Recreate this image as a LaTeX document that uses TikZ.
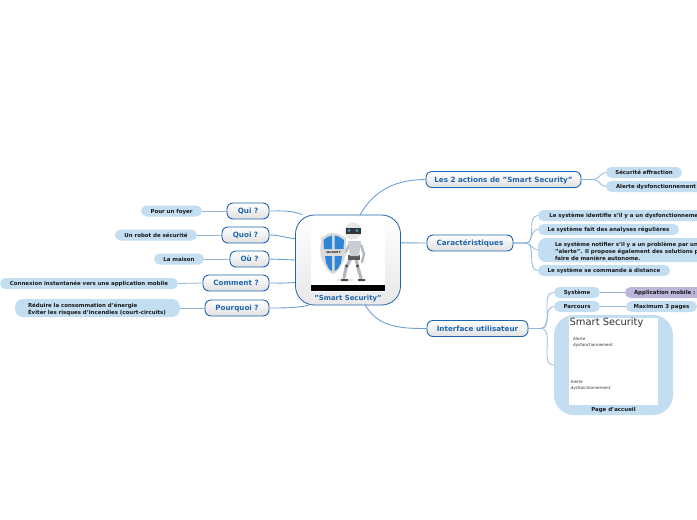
\documentclass[tikz,border=0pt]{standalone}
\usepackage{fontspec}
\setmainfont{DejaVu Sans}
\usetikzlibrary{backgrounds}
\definecolor{linkblue}{HTML}{6F9FD2}
\definecolor{edgeblue}{HTML}{1F65AE}
\definecolor{leafblue}{HTML}{C3DDF1}
\definecolor{purpleleaf}{HTML}{BDB6DA}
\definecolor{robotgrey}{HTML}{B4B8BD}
\definecolor{shieldblue}{HTML}{2F86D6}
\tikzset{
  coretopic/.style={draw=edgeblue,line width=0.8pt,rounded corners=19pt,top color=white,bottom color=black!9,minimum width=105pt,minimum height=90pt},
  maintopic/.style={draw=edgeblue,line width=0.9pt,rounded corners=6pt,top color=white,bottom color=black!12,font=\bfseries\fontsize{7.2}{8}\selectfont,text=edgeblue,minimum height=16pt,inner sep=0pt,text height=5.8pt,text depth=0.4pt},
  subtopic/.style={fill=leafblue,rounded corners=5.5pt,font=\bfseries\fontsize{5.45}{7}\selectfont,text=black!90,minimum height=11pt,inner xsep=0pt,inner ysep=0pt},
  subline/.style={subtopic,text height=5pt,text depth=0.4pt},
  link/.style={draw=linkblue,line width=0.9pt},
  sublink/.style={draw=linkblue!75,line width=0.8pt},
  screentext/.style={font=\fontsize{4.1}{6.5}\selectfont,text=black!80,align=left,inner sep=0pt,anchor=north west},
  robotlimb/.style={line cap=round,line width=3.2pt,draw=robotgrey},
}
\begin{document}
\begin{tikzpicture}[x=1pt,y=-1pt]
\useasboundingbox (0,0) rectangle (697,520);
\clip (0,0) rectangle (697,520);
%
\node[coretopic] (core) at (348,260) {};
\fill[white] (311,218) rectangle (385,292);
\fill[black] (311,285) rectangle (385,291);
\node[font=\bfseries\fontsize{6.9}{8}\selectfont,text=edgeblue,inner sep=0pt] (corelabel) at (348,298.5) {"Smart Security"};
% shield
\fill[black!14] (321,238) to [out=30,in=180](333,233) to [out=0,in=150](346,238) to [out=-90,in=60](343,262) to [out=-120,in=20](333,274) to [out=160,in=-60](323,262) to [out=120,in=-90](321,238);
\fill[shieldblue] (323.5,240) to [out=30,in=180](332,235.5) -- (332,249) -- (324,249) -- cycle;
\fill[shieldblue] (334.5,235.5) to [out=0,in=150](344,240) -- (343.5,249) -- (334.5,249) -- cycle;
\fill[shieldblue] (325,256) -- (332,256) -- (332,271) to [out=160,in=-60](326,263) -- cycle;
\fill[shieldblue] (334.5,256) -- (342,256) -- (341,263) to [out=-120,in=20](334.5,271) -- cycle;
\node[font=\bfseries\fontsize{2.6}{3}\selectfont,inner sep=0pt] (shieldlabel) at (333.5,252.5) {SECURITY};
% robot
\fill[black!10] (345,280) ellipse (9 and 1.2);
\draw[robotlimb] (351,258) -- (346,268) -- (344,278);
\draw[robotlimb] (356,258) -- (358,268) -- (361,278);
\draw[robotlimb,line width=2.4pt] (361,245) -- (364,254) -- (362,262);
\draw[robotlimb,line width=2.2pt] (349,245) -- (346,252);
\fill[black!65] (348,255) rectangle (360,260);
\fill[robotgrey!70] (348,241) -- (361,241) -- (359,256) -- (350,256) -- cycle;
\fill[black!70] (346.5,266) circle (1.6) (357.5,266) circle (1.6);
\fill[black!70] (341,279) rectangle (348,281) (358,279) rectangle (365,281);
\fill[black!10] (353,231) circle (8.5);
\fill[black!80] (346,227.5) rectangle (360.5,233.5);
\fill[cyan!80!black] (349,230.5) circle (1.7) (357,230.5) circle (1.7);
%
\node[maintopic,minimum width=42pt] (qui) at (248,211) {Qui ?};
\node[maintopic,minimum width=47pt] (quoi) at (245.5,235) {Quoi ?};
\node[maintopic,minimum width=39pt] (ou) at (249.5,259) {Où ?};
\node[maintopic,minimum width=66pt] (comment) at (236,283) {Comment ?};
\node[maintopic,minimum width=64pt] (pourquoi) at (237,308) {Pourquoi ?};
%
\node[subline,minimum width=61pt] (foyer) at (171.5,211) {Pour un foyer};
\node[subline,minimum width=82pt] (robot) at (156,235) {Un robot de sécurité};
\node[subline,minimum width=50pt] (maison) at (179,259) {La maison};
\node[subline,minimum width=178pt] (connexion) at (89,283.5) {Connexion instantanée vers une application mobile};
\node[subtopic,minimum width=165pt,minimum height=18pt,rounded corners=8pt,align=left,text width=139pt] (energie) at (97.5,308) {\rule{0pt}{7pt}Réduire la consommation d'énergie\\Éviter les risques d'incendies (court-circuits)};
%
\node[maintopic,minimum width=155pt] (actions) at (503.5,179.5) {Les 2 actions de "Smart Security"};
\node[maintopic,minimum width=86pt] (carac) at (470,243) {Caractéristiques};
\node[maintopic,minimum width=101pt] (interface) at (477.5,328.5) {Interface utilisateur};
%
\node[subline,minimum width=76pt] (effraction) at (644,172.5) {Sécurité effraction};
\node[subline,minimum width=102pt,align=left,text width=82pt] (alerte) at (657,186.5) {Alerte dysfonctionnement};
\node[subline,minimum width=178pt] (identifie) at (627,215.5) {Le système identifie s'il y a un dysfonctionnement};
\node[subline,minimum width=141pt] (analyses) at (608.5,229.5) {Le système fait des analyses régulières};
\node[subtopic,minimum width=206pt,minimum height=24pt,rounded corners=8pt,align=left,text width=172pt] (notifier) at (641,250) {\rule{0pt}{7pt}Le système notifier s'il y a un problème par une\\"alerte". Il propose également des solutions pour\\faire de manière autonome.};
\node[subline,minimum width=132pt] (commande) at (604,270.5) {Le système se commande à distance};
%
\node[subline,minimum width=46pt] (systeme) at (577,292.5) {Système};
\node[subline,minimum width=46pt] (parcours) at (577,306.5) {Parcours};
\node[subline,fill=purpleleaf,minimum width=80pt,align=left,text width=62pt] (application) at (665,292.5) {Application mobile :};
\node[subline,minimum width=71pt] (maximum) at (661.5,306.5) {Maximum 3 pages};
%
\node[subtopic,minimum width=119pt,minimum height=100pt,rounded corners=20pt] (accueil) at (613.5,365) {};
\fill[white] (569,318) rectangle (658,405);
\node[font=\bfseries\fontsize{5.45}{7}\selectfont,text=black!90,inner sep=0pt] (accueillabel) at (613.5,410) {Page d'accueil};
\node[font=\fontsize{9.9}{10}\selectfont,text=black!80,inner sep=0pt,anchor=north west] (screentitle) at (569.5,318) {Smart Security};
\node[screentext] (screenone) at (573,337) {Alerte\\dysfonctionnement};
\node[screentext] (screentwo) at (570.5,380) {Alerte\\dysfonctionnement};
%
\begin{scope}[on background layer]
\draw[link] (core.135) to [out=160,in=0](qui.east);
\draw[link] (core.158) to [out=175,in=0](quoi.east);
\draw[link] (core.180) -- (ou.east);
\draw[link] (core.203) to [out=185,in=0](comment.east);
\draw[link] (core.229) to [out=190,in=0](pourquoi.east);
\draw[link] (core.75) to [out=60,in=180](actions.west);
\draw[link] (core.18) to [out=0,in=180](carac.west);
\draw[link] (core.-69) to [out=-60,in=180](interface.west);
%
\draw[sublink] (qui.west) -- (foyer.east);
\draw[sublink] (quoi.west) -- (robot.east);
\draw[sublink] (ou.west) -- (maison.east);
\draw[sublink] (comment.west) -- (connexion.east);
\draw[sublink] (pourquoi.west) -- (energie.east);
%
\draw[sublink] (actions.east) -- ++(12,0) to [out=0,in=180](effraction.west);
\draw[sublink] (actions.east) -- ++(12,0) to [out=0,in=180](alerte.west);
\draw[sublink] (carac.east) -- ++(12,0) to [out=0,in=180](identifie.west);
\draw[sublink] (carac.east) -- ++(12,0) to [out=0,in=180](analyses.west);
\draw[sublink] (carac.east) -- ++(12,0) to [out=0,in=180](notifier.west);
\draw[sublink] (carac.east) -- ++(12,0) to [out=0,in=180](commande.west);
\draw[sublink] (interface.east) -- ++(12,0) to [out=0,in=180](systeme.west);
\draw[sublink] (interface.east) -- ++(12,0) to [out=0,in=180](parcours.west);
\draw[sublink] (interface.east) -- ++(12,0) to [out=0,in=180](accueil.west);
\draw[sublink] (systeme.east) -- (application.west);
\draw[sublink] (parcours.east) -- (maximum.west);
\end{scope}
\end{tikzpicture}
\end{document}
